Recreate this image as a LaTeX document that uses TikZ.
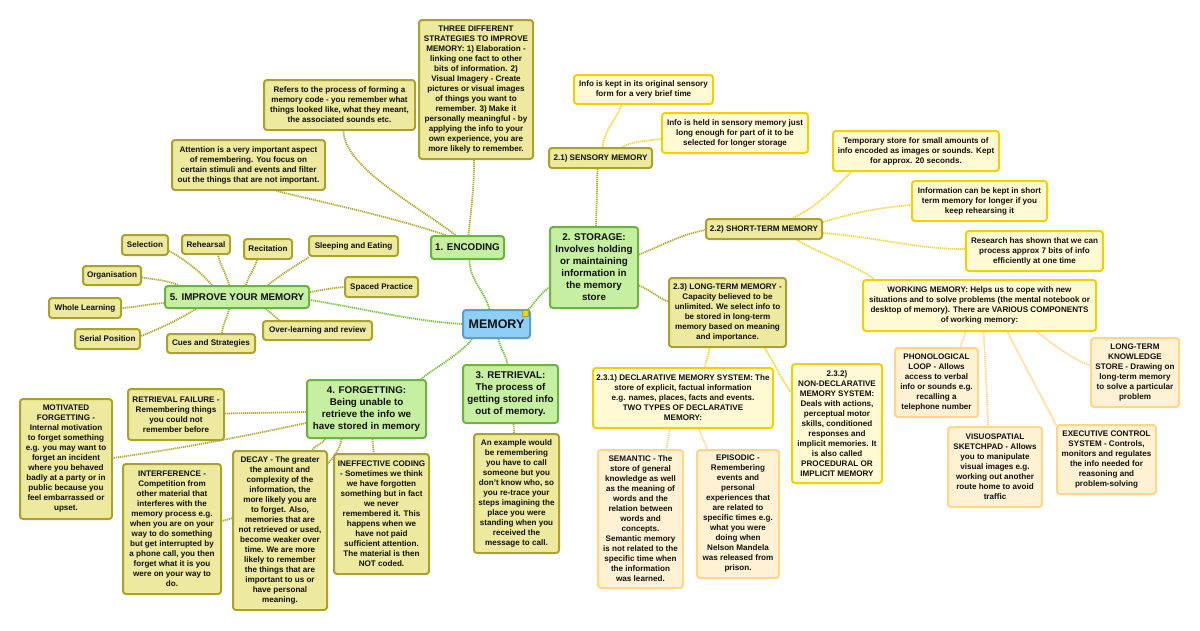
\documentclass[tikz,border=0pt]{standalone}
\usepackage{fontspec}
\setmainfont{Liberation Sans}
\usetikzlibrary{calc,backgrounds}
\definecolor{gfill}{HTML}{C6EFA2}
\definecolor{gdraw}{HTML}{6DB33F}
\definecolor{bfill}{HTML}{8FCFF7}
\definecolor{bdraw}{HTML}{5C9FC8}
\definecolor{ofill}{HTML}{EDE99E}
\definecolor{odraw}{HTML}{A9A32C}
\definecolor{yfill}{HTML}{FFFAD4}
\definecolor{ydraw}{HTML}{F0D200}
\definecolor{rfill}{HTML}{FFF1D4}
\definecolor{rdraw}{HTML}{FFD68A}
\definecolor{lgreen}{HTML}{7DC142}
\definecolor{lolive}{HTML}{B3AB36}
\definecolor{lyellow}{HTML}{F0D840}
\definecolor{lorange}{HTML}{FFD58A}
\definecolor{txt}{HTML}{111111}
\begin{document}
\begin{tikzpicture}[x=1pt,y=-1pt,
  box/.style={rounded corners=3pt,line width=2pt,align=center,inner sep=0pt,text=txt,
    font=\fontsize{8.1}{10}\selectfont\bfseries},
  mainbox/.style={box,fill=gfill,draw=gdraw,font=\fontsize{9.8}{12}\selectfont\bfseries},
  rootbox/.style={box,fill=bfill,draw=bdraw,font=\fontsize{12.5}{14}\selectfont\bfseries},
  olivebox/.style={box,fill=ofill,draw=odraw},
  yelbox/.style={box,fill=yfill,draw=ydraw},
  orabox/.style={box,fill=rfill,draw=rdraw},
  wh/.style 2 args={minimum width=#1,minimum height=#2},
  con/.style={line width=1.8pt,dash pattern=on 1.2pt off 0.8pt},
  cg/.style={con,draw=lgreen},
  co/.style={con,draw=lolive},
  cy/.style={con,draw=lyellow},
  cr/.style={con,draw=lorange}]
\useasboundingbox (0,0) rectangle (1200,630);

% root and main nodes
\node[rootbox,wh={67}{28}] (root) at (496.5,324) {MEMORY};
\node[fill=ydraw,draw=odraw,line width=0.8pt,minimum size=6pt,inner sep=0pt] (mark) at (525,313) {};
\node[mainbox,wh={73}{23}] (enc) at (467.5,247.5) {1. ENCODING};
\node[mainbox,wh={88}{81}] (storage) at (594,267.5) {2. STORAGE:\\Involves holding\\or maintaining\\information in\\the memory\\store};
\node[mainbox,wh={95}{58}] (retrieval) at (510.5,394) {3. RETRIEVAL:\\The process of\\getting stored info\\out of memory.};
\node[mainbox,wh={119}{58}] (forgetting) at (366.5,409) {4. FORGETTING:\\Being unable to\\retrieve the info we\\have stored in memory};
\node[mainbox,wh={144}{22}] (improve) at (237,297) {5. IMPROVE YOUR MEMORY};

% encoding
\node[olivebox,wh={114}{139}] (three) at (476,89.5) {THREE DIFFERENT\\STRATEGIES TO IMPROVE\\MEMORY: 1) Elaboration -\\linking one fact to other\\bits of information. 2)\\Visual Imagery - Create\\pictures or visual images\\of things you want to\\remember. 3) Make it\\personally meaningful - by\\applying the info to your\\own experience, you are\\more likely to remember.};
\node[olivebox,wh={151}{50}] (refers) at (339.5,105) {Refers to the process of forming a\\memory code - you remember what\\things looked like, what they meant,\\the associated sounds etc.};
\node[olivebox,wh={153}{50}] (attention) at (248.5,165) {Attention is a very important aspect\\of remembering. You focus on\\certain stimuli and events and filter\\out the things that are not important.};

% improve
\node[olivebox,wh={46}{20}] (selection) at (145,245) {Selection};
\node[olivebox,wh={48}{19}] (rehearsal) at (206,244.5) {Rehearsal};
\node[olivebox,wh={48}{20}] (recitation) at (268,249) {Recitation};
\node[olivebox,wh={89}{20}] (sleeping) at (353.5,246) {Sleeping and Eating};
\node[olivebox,wh={58}{19}] (organisation) at (112,275.5) {Organisation};
\node[olivebox,wh={73}{20}] (spaced) at (381.5,287) {Spaced Practice};
\node[olivebox,wh={72}{20}] (whole) at (85,308) {Whole Learning};
\node[olivebox,wh={65}{20}] (serial) at (107.5,339) {Serial Position};
\node[olivebox,wh={88}{19}] (cues) at (211,343.5) {Cues and Strategies};
\node[olivebox,wh={109}{19}] (overlearn) at (317.5,330.5) {Over-learning and review};

% storage
\node[olivebox,wh={103}{20}] (sensory) at (600.5,158) {2.1) SENSORY MEMORY};
\node[yelbox,wh={139}{29}] (infokept) at (643.5,89.5) {Info is kept in its original sensory\\form for a very brief time};
\node[yelbox,wh={146}{40}] (infoheld) at (735,133) {Info is held in sensory memory just\\long enough for part of it to be\\selected for longer storage};
\node[olivebox,wh={116}{20}] (shortterm) at (764,229) {2.2) SHORT-TERM MEMORY};
\node[yelbox,wh={166}{40}] (temporary) at (916,151) {Temporary store for small amounts of\\info encoded as images or sounds. Kept\\for approx. 20 seconds.};
\node[yelbox,wh={135}{40}] (infocan) at (979.5,201) {Information can be kept in short\\term memory for longer if you\\keep rehearsing it};
\node[yelbox,wh={137}{40}] (research) at (1034.5,251) {Research has shown that we can\\process approx 7 bits of info\\efficiently at one time};
\node[yelbox,wh={233}{51}] (working) at (979.5,305.5) {WORKING MEMORY: Helps us to cope with new\\situations and to solve problems (the mental notebook or\\desktop of memory). There are VARIOUS COMPONENTS\\of working memory:};
\node[orabox,wh={83}{69}] (phono) at (936.5,382.5) {PHONOLOGICAL\\LOOP - Allows\\access to verbal\\info or sounds e.g.\\recalling a\\telephone number};
\node[orabox,wh={88}{69}] (ltk) at (1135,372.5) {LONG-TERM\\KNOWLEDGE\\STORE - Drawing on\\long-term memory\\to solve a particular\\problem};
\node[orabox,wh={94}{80}] (visuo) at (995,467) {VISUOSPATIAL\\SKETCHPAD - Allows\\you to manipulate\\visual images e.g.\\working out another\\route home to avoid\\traffic};
\node[orabox,wh={99}{69}] (exec) at (1106.5,459.5) {EXECUTIVE CONTROL\\SYSTEM - Controls,\\monitors and regulates\\the info needed for\\reasoning and\\problem-solving};
\node[olivebox,wh={117}{69}] (longterm) at (727.5,312.5) {2.3) LONG-TERM MEMORY -\\Capacity believed to be\\unlimited. We select info to\\be stored in long-term\\memory based on meaning\\and importance.};
\node[yelbox,wh={180}{60}] (declarative) at (683,398) {2.3.1) DECLARATIVE MEMORY SYSTEM: The\\store of explicit, factual information\\e.g. names, places, facts and events.\\TWO TYPES OF DECLARATIVE\\MEMORY:};
\node[yelbox,wh={90}{119}] (nondecl) at (837,423.5) {2.3.2)\\NON-DECLARATIVE\\MEMORY SYSTEM:\\Deals with actions,\\perceptual motor\\skills, conditioned\\responses and\\implicit memories. It\\is also called\\PROCEDURAL OR\\IMPLICIT MEMORY};
\node[orabox,wh={85}{138}] (semantic) at (640.5,519) {SEMANTIC - The\\store of general\\knowledge as well\\as the meaning of\\words and the\\relation between\\words and\\concepts.\\Semantic memory\\is not related to the\\specific time when\\the information\\was learned.};
\node[orabox,wh={82}{128}] (episodic) at (738,514) {EPISODIC -\\Remembering\\events and\\personal\\experiences that\\are related to\\specific times e.g.\\what you were\\doing when\\Nelson Mandela\\was released from\\prison.};

% retrieval
\node[olivebox,wh={85}{119}] (example) at (516.5,493.5) {An example would\\be remembering\\you have to call\\someone but you\\don't know who, so\\you re-trace your\\steps imagining the\\place you were\\standing when you\\received the\\message to call.};

% forgetting
\node[olivebox,wh={96}{51}] (retfail) at (176,414.5) {RETRIEVAL FAILURE -\\Remembering things\\you could not\\remember before};
\node[olivebox,wh={92}{120}] (motivated) at (66,459) {MOTIVATED\\FORGETTING -\\Internal motivation\\to forget something\\e.g. you may want to\\forget an incident\\where you behaved\\badly at a party or in\\public because you\\feel embarrassed or\\upset.};
\node[olivebox,wh={98}{130}] (interference) at (172,529) {INTERFERENCE -\\Competition from\\other material that\\interferes with the\\memory process e.g.\\when you are on your\\way to do something\\but get interrupted by\\a phone call, you then\\forget what it is you\\were on your way to\\do.};
\node[olivebox,wh={94}{159}] (decay) at (280,530.5) {DECAY - The greater\\the amount and\\complexity of the\\information, the\\more likely you are\\to forget. Also,\\memories that are\\not retrieved or used,\\become weaker over\\time. We are more\\likely to remember\\the things that are\\important to us or\\have personal\\meaning.};
\node[olivebox,wh={95}{120}] (ineffective) at (381.5,514) {INEFFECTIVE CODING\\- Sometimes we think\\we have forgotten\\something but in fact\\we never\\remembered it. This\\happens when we\\have not paid\\sufficient attention.\\The material is then\\NOT coded.};

\begin{scope}[on background layer]
\fill[white] (0,0) rectangle (1200,630);
% root connectors
\draw[cg] ($(root.north)+(-7,0)$) .. controls +(-5,-18) and +(0,20) .. ($(enc.south)+(2,0)$);
\draw[cg] (mark) .. controls +(8,-8) and +(-8,5) .. ($(storage.west)+(0,20)$);
\draw[cg] (root.west) .. controls +(-50,-3) and +(50,8) .. ($(improve.east)+(0,3)$);
\draw[cg] ($(root.south west)+(10,0)$) .. controls +(-10,14) and +(15,-12) .. ($(forgetting.north east)+(-6,0)$);
\draw[cg] ($(root.south)+(2,0)$) .. controls +(2,10) and +(-2,-10) .. ($(retrieval.north)+(-3,0)$);
% encoding
\draw[co] ($(enc.north)+(1,0)$) .. controls +(3,-30) and +(0,30) .. ($(three.south)+(-2,0)$);
\draw[co] ($(enc.north)+(-12,0)$) .. controls +(-40,-30) and +(0,35) .. ($(refers.south)+(4,0)$);
\draw[co] ($(enc.north)+(-22,0)$) .. controls +(-60,-20) and +(40,10) .. ($(attention.south)+(28,0)$);
% improve
\draw[co] ($(improve.north)+(-25,0)$) .. controls +(-12,-14) and +(12,6) .. ($(selection.south east)+(0,-5)$);
\draw[co] ($(improve.north)+(-8,0)$) .. controls +(-3,-12) and +(3,12) .. ($(rehearsal.south)+(12,0)$);
\draw[co] ($(improve.north)+(9,0)$) .. controls +(3,-10) and +(-3,10) .. ($(recitation.south)+(-11,0)$);
\draw[co] ($(improve.north)+(31,0)$) .. controls +(15,-12) and +(-15,10) .. ($(sleeping.south west)+(1,0)$);
\draw[co] ($(improve.north west)+(14,0)$) .. controls +(-12,-5) and +(12,2) .. ($(organisation.east)+(0,2)$);
\draw[co] ($(improve.east)+(0,-5)$) .. controls +(12,-2) and +(-12,1) .. (spaced.west);
\draw[co] ($(improve.west)+(0,6)$) .. controls +(-15,1) and +(15,-1) .. (whole.east);
\draw[co] ($(improve.south west)+(32,0)$) .. controls +(-20,12) and +(20,-8) .. ($(serial.east)+(0,-3)$);
\draw[co] ($(improve.south)+(-8,0)$) .. controls +(-2,10) and +(1,-10) .. ($(cues.north)+(11,0)$);
\draw[co] ($(improve.south)+(29,0)$) .. controls +(5,4) and +(-5,-4) .. ($(overlearn.north west)+(17,0)$);
% storage
\draw[co] ($(storage.north)+(2,0)$) -- ($(sensory.south)+(-3,0)$);
\draw[co] ($(storage.east)+(0,-13)$) .. controls +(25,-10) and +(-25,5) .. ($(shortterm.west)+(0,1)$);
\draw[co] ($(storage.east)+(0,18)$) .. controls +(12,5) and +(-12,-5) .. ($(longterm.west)+(0,-11)$);
\draw[cy] ($(sensory.north)+(2,0)$) .. controls +(3,-20) and +(-5,15) .. ($(infokept.south)+(-22,0)$);
\draw[cy] ($(sensory.north)+(22,0)$) .. controls +(10,-6) and +(-15,2) .. ($(infoheld.west)+(0,6)$);
\draw[cy] ($(shortterm.north)+(29,0)$) .. controls +(25,-12) and +(-15,15) .. ($(temporary.south west)+(19,0)$);
\draw[cy] ($(shortterm.east)+(0,-7)$) .. controls +(35,-10) and +(-35,3) .. ($(infocan.west)+(0,4)$);
\draw[cy] ($(shortterm.east)+(0,4)$) .. controls +(60,5) and +(-50,0) .. ($(research.west)+(0,-2)$);
\draw[cy] ($(shortterm.south)+(33,0)$) .. controls +(25,15) and +(-20,-15) .. ($(working.north west)+(12,0)$);
\draw[cr] ($(working.south)+(-14,0)$) .. controls +(-1,6) and +(1,-6) .. ($(phono.north)+(24,0)$);
\draw[cr] ($(working.south)+(4,0)$) .. controls +(2,35) and +(-1,-35) .. ($(visuo.north)+(-7,0)$);
\draw[cr] ($(working.south)+(28,0)$) .. controls +(15,30) and +(-15,-30) .. ($(exec.north west)+(0,1)$);
\draw[cr] ($(working.south)+(58,0)$) .. controls +(15,12) and +(-20,-8) .. ($(ltk.west)+(0,-7)$);
\draw[cy] ($(longterm.south)+(-18,0)$) .. controls +(-1,8) and +(1,-8) .. ($(declarative.north)+(22,0)$);
\draw[cy] ($(longterm.south)+(37,0)$) .. controls +(10,15) and +(-8,-10) .. ($(nondecl.west)+(0,-31)$);
\draw[cr] ($(declarative.south)+(-13,0)$) .. controls +(-1,8) and +(1,-8) .. ($(semantic.north)+(26,0)$);
\draw[cr] ($(declarative.south)+(16,0)$) .. controls +(2,8) and +(-2,-8) .. ($(episodic.north)+(-31,0)$);
% retrieval
\draw[co] ($(retrieval.south)+(3,0)$) -- ($(example.north)+(-2.5,0)$);
% forgetting
\draw[co] ($(forgetting.west)+(0,3)$) -- ($(retfail.east)+(0,-1)$);
\draw[co] ($(forgetting.west)+(0,14)$) .. controls +(-70,15) and +(70,-10) .. ($(motivated.east)+(0,-1)$);
\draw[co] ($(forgetting.south)+(-41,0)$) .. controls +(-3,5) and +(3,-5) .. ($(decay.north)+(32,0)$);
\draw[co] ($(forgetting.south)+(-25,0)$) .. controls +(-5,35) and +(40,-10) .. ($(interference.east)+(0,-8)$);
\draw[co] ($(forgetting.south)+(6,0)$) .. controls +(0,6) and +(0,-6) .. ($(ineffective.north)+(-8,0)$);
\end{scope}
\end{tikzpicture}
\end{document}
